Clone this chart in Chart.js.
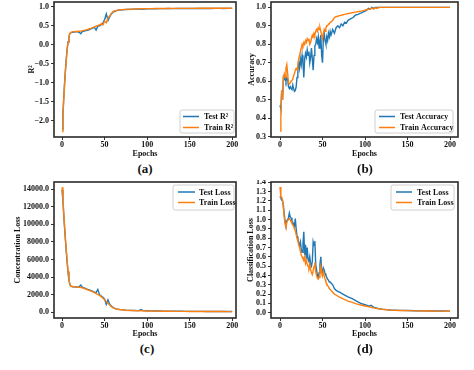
<!DOCTYPE html>
<html><head><meta charset="utf-8">
<script src="https://cdn.jsdelivr.net/npm/chart.js@4.4.1/dist/chart.umd.min.js"></script>
<style>
body{margin:0;background:#fff;width:474px;height:370px;overflow:hidden;position:relative;font-family:"Liberation Serif","Times New Roman",serif;}
canvas{position:absolute;}
.cap{position:absolute;font-weight:bold;font-size:13px;line-height:13px;width:40px;margin-left:-20px;text-align:center;color:#111;}
</style></head><body>
<canvas id="ca" width="241" height="160" style="left:0;top:0"></canvas>
<canvas id="cb" width="237" height="160" style="left:237px;top:0"></canvas>
<canvas id="cc" width="241" height="160" style="left:0;top:180px"></canvas>
<canvas id="cd" width="237" height="160" style="left:237px;top:180px"></canvas>
<div class="cap" style="left:145px;top:162px">(a)</div>
<div class="cap" style="left:365px;top:162px">(b)</div>
<div class="cap" style="left:147px;top:342px">(c)</div>
<div class="cap" style="left:365px;top:342px">(d)</div>
<script>
// ---------- data ----------
const xTicks = [0, 50, 100, 150, 200];

const aEpochs = [0,1,2,3,4,5,6,7,8,9,10,12,14,16,18,20,22,24,26,28,30,32,34,36,38,40,42,44,46,48,50,52,54,56,58,60,62,64,66,68,70,75,80,85,90,95,100,105,110,115,120,125,130,135,140,145,150,155,160,165,170,175,180,185,190,195,200];
const aTest = [-2.22,-1.80,-1.38,-0.98,-0.64,-0.35,-0.11,0.08,0.21,0.29,0.31,
0.33,0.335,0.34,0.34,0.33,0.29,0.35,0.36,0.37,0.38,0.40,0.42,0.44,0.46,0.39,0.49,0.50,0.53,0.57,0.66,0.81,0.64,0.74,0.81,0.86,0.88,0.895,0.905,0.91,0.915,
0.925,0.93,0.935,0.94,0.93,0.944,0.946,0.947,0.949,0.95,0.951,0.95,0.952,0.952,0.951,0.953,0.953,0.952,0.954,0.954,0.953,0.955,0.955,0.954,0.955,0.955];
const aTrain = [-2.28,-1.85,-1.42,-1.02,-0.68,-0.38,-0.13,0.06,0.20,0.29,0.32,
0.34,0.345,0.35,0.35,0.355,0.36,0.37,0.38,0.39,0.40,0.42,0.43,0.45,0.47,0.49,0.51,0.52,0.55,0.52,0.62,0.58,0.70,0.76,0.82,0.87,0.89,0.90,0.91,0.915,0.92,
0.93,0.935,0.94,0.943,0.945,0.948,0.95,0.951,0.952,0.953,0.954,0.955,0.955,0.956,0.956,0.957,0.957,0.958,0.958,0.958,0.959,0.959,0.959,0.96,0.96,0.96];
const aYTicks = [-2.0,-1.5,-1.0,-0.5,0.0,0.5,1.0];

const bEpochs = [0,1,2,3,4,5,6,7,8,9,10,11,12,13,14,15,16,17,18,19,20,21,22,23,24,25,26,27,28,29,30,31,32,33,34,35,36,37,38,39,40,41,42,43,44,45,46,47,48,49,50,51,52,53,54,55,56,57,58,59,60,
62,64,66,68,70,72,74,76,78,80,82,84,86,88,90,92,94,96,98,100,102,104,106,108,110,112,114,116,118,120,130,140,150,160,170,180,190,200];
const bTest = [0.47,0.45,0.55,0.50,0.62,0.61,0.62,0.60,0.62,0.61,
0.57,0.56,0.57,0.56,0.555,0.58,0.56,0.545,0.55,0.57,
0.62,0.66,0.70,0.67,0.72,0.69,0.74,0.70,0.62,0.72,
0.75,0.73,0.77,0.74,0.76,0.70,0.73,0.78,0.72,0.66,
0.74,0.79,0.80,0.83,0.81,0.84,0.78,0.82,0.85,0.74,
0.70,0.83,0.86,0.82,0.80,0.84,0.82,0.86,0.84,0.87,
0.85,
0.88,0.86,0.89,0.90,0.89,0.91,0.90,0.92,0.915,0.93,
0.935,0.94,0.945,0.955,0.96,0.962,0.967,0.97,0.975,0.98,
0.985,0.995,0.99,1.0,0.995,1.0,1.0,1.0,1.0,1.0,
1.0,1.0,1.0,1.0,1.0,1.0,1.0,1.0];
const bTrain = [0.33,0.42,0.55,0.50,0.62,0.64,0.62,0.67,0.69,0.64,
0.59,0.585,0.59,0.60,0.60,0.61,0.63,0.64,0.66,0.67,
0.66,0.69,0.72,0.74,0.76,0.78,0.80,0.79,0.81,0.80,
0.82,0.81,0.83,0.82,0.83,0.80,0.81,0.83,0.85,0.84,
0.86,0.85,0.87,0.88,0.87,0.89,0.88,0.89,0.87,0.85,
0.83,0.86,0.88,0.87,0.89,0.90,0.90,0.91,0.91,0.92,
0.92,
0.93,0.945,0.95,0.952,0.955,0.957,0.96,0.962,0.965,0.967,
0.968,0.97,0.972,0.974,0.975,0.977,0.979,0.98,0.982,0.985,
0.987,0.99,0.992,0.996,0.99,0.998,0.994,0.999,1.0,1.0,
1.0,1.0,1.0,1.0,1.0,1.0,1.0,1.0];
const bYTicks = [0.3,0.4,0.5,0.6,0.7,0.8,0.9,1.0];

const cEpochs = [0,1,2,3,4,5,6,7,8,9,10,12,14,16,18,20,22,24,26,28,30,32,34,36,38,40,42,44,46,48,50,52,54,56,58,60,62,64,66,68,70,75,80,85,90,93,95,100,105,110,115,120,125,130,135,140,145,150,155,160,165,170,175,180,185,190,195,200];
const cTest = [13900,12600,11000,9500,8100,6800,5600,4550,3700,3200,2980,
2900,2880,2870,2860,2900,3100,2830,2760,2680,2600,
2530,2450,2370,2280,2250,2600,2000,1850,1700,1500,
900,1400,900,700,540,450,390,350,320,295,
250,220,200,185,320,190,
170,160,150,140,132,125,120,116,112,108,105,102,100,98,96,94,92,91,90,89,88];
const cTrain = [14200,12800,11200,9700,8300,7000,5800,4700,3800,3250,3000,
2920,2900,2880,2870,2850,2820,2770,2700,2620,2550,
2480,2400,2320,2230,2130,2030,1920,1780,1600,1420,
1220,1020,820,640,500,420,370,330,300,280,
235,205,185,170,165,160,
150,140,132,125,118,112,108,104,100,97,95,92,90,88,86,84,82,81,80,79,78];
const cYTicks = [0,2000,4000,6000,8000,10000,12000,14000];

const dEpochs = [0,1,2,3,4,5,6,7,8,9,10,11,12,13,14,15,16,17,18,19,20,21,22,23,24,25,26,27,28,29,30,31,32,33,34,35,36,37,38,39,40,41,42,43,44,45,46,47,48,49,50,51,52,53,54,55,56,57,58,59,60,
62,64,66,68,70,75,80,85,90,95,100,105,107,110,115,120,125,130,140,150,160,170,180,190,200];
const dTest = [1.25,1.23,1.22,1.20,1.15,1.06,0.98,0.95,0.99,1.00,
1.02,1.07,1.03,1.02,0.99,0.97,0.95,0.93,1.01,0.90,
0.82,0.80,0.75,0.72,0.76,0.68,0.65,0.74,0.87,0.62,
0.73,0.58,0.70,0.57,0.55,0.60,0.52,0.50,0.55,0.76,
0.72,0.77,0.52,0.46,0.40,0.38,0.43,0.52,0.60,0.45,
0.42,0.48,0.46,0.42,0.40,0.38,0.36,0.35,0.33,0.33,
0.32,
0.30,0.26,0.24,0.23,0.22,
0.195,0.17,0.15,0.125,0.10,0.085,0.07,0.08,0.06,0.045,0.038,0.033,0.029,0.025,0.023,0.021,0.02,0.019,0.018,0.017];
const dTrain = [1.35,1.24,1.24,1.21,1.12,1.02,0.95,0.92,0.97,0.99,
1.00,1.01,1.00,0.98,0.96,0.94,0.93,0.90,0.88,0.84,
0.80,0.77,0.73,0.70,0.66,0.62,0.60,0.58,0.56,0.60,
0.53,0.56,0.52,0.50,0.48,0.52,0.46,0.43,0.41,0.45,
0.50,0.54,0.44,0.40,0.37,0.36,0.38,0.45,0.50,0.42,
0.39,0.44,0.40,0.36,0.33,0.31,0.29,0.28,0.26,0.25,
0.24,
0.22,0.20,0.19,0.178,0.167,
0.145,0.125,0.11,0.095,0.083,0.072,0.062,0.058,0.052,0.044,0.037,0.032,0.028,0.024,0.022,0.02,0.019,0.018,0.017,0.016];
const dYTicks = [0.0,0.1,0.2,0.3,0.4,0.5,0.6,0.7,0.8,0.9,1.0,1.1,1.2,1.3,1.4];

// ---------- drawing ----------
const FONT = '"Liberation Serif","Times New Roman",serif';
const BLUE = '#1f77b4', ORANGE = '#ff7f0e', INK = '#111';

const framePlugin = {
  id: 'frame',
  afterDatasetsDraw(chart) {
    const {ctx, chartArea: a} = chart;
    ctx.save();
    ctx.strokeStyle = '#2a2a2a';
    ctx.lineWidth = 1.6;
    ctx.strokeRect(a.left, a.top, a.right - a.left, a.bottom - a.top);
    ctx.restore();
  }
};

const legendPlugin = {
  id: 'boxLegend',
  afterDraw(chart, args, o) {
    const ctx = chart.ctx;
    ctx.save();
    const r = 2;
    ctx.beginPath();
    ctx.moveTo(o.x + r, o.y);
    ctx.arcTo(o.x + o.w, o.y, o.x + o.w, o.y + o.h, r);
    ctx.arcTo(o.x + o.w, o.y + o.h, o.x, o.y + o.h, r);
    ctx.arcTo(o.x, o.y + o.h, o.x, o.y, r);
    ctx.arcTo(o.x, o.y, o.x + o.w, o.y, r);
    ctx.closePath();
    ctx.fillStyle = 'rgba(255,255,255,0.85)';
    ctx.fill();
    ctx.strokeStyle = '#d0d0d0';
    ctx.lineWidth = 1;
    ctx.stroke();
    ctx.font = 'bold 8px ' + FONT;
    ctx.textBaseline = 'middle';
    chart.data.datasets.forEach((ds, i) => {
      const yy = o.rows[i];
      ctx.strokeStyle = ds.borderColor;
      ctx.lineWidth = 1.5;
      ctx.beginPath();
      ctx.moveTo(o.lx0, yy); ctx.lineTo(o.lx1, yy);
      ctx.stroke();
      ctx.fillStyle = INK;
      ctx.fillText(ds.label, o.tx, yy + 0.5);
    });
    ctx.restore();
  }
};

function fmtY(v) {
  const s = Number(v).toFixed(1);
  return s.startsWith('-') ? '\u2212' + s.slice(1) : s;
}

function makeChart(id, c) {
  const pts = arr => c.epochs.map((e, i) => ({x: e, y: arr[i]}));
  const tickFont = {family: FONT, size: 8, weight: 'bold'};
  return new Chart(document.getElementById(id), {
    type: 'line',
    data: {datasets: [
      {label: c.labels[0], data: pts(c.test), borderColor: BLUE, borderWidth: 1.4, pointRadius: 0, tension: 0, fill: false, order: 1},
      {label: c.labels[1], data: pts(c.train), borderColor: ORANGE, borderWidth: 1.4, pointRadius: 0, tension: 0, fill: false, order: 0}
    ]},
    options: {
      responsive: false, animation: false, devicePixelRatio: 1,
      layout: {padding: c.pad},
      plugins: {legend: {display: false}, tooltip: {enabled: false}, boxLegend: c.legend},
      scales: {
        x: {
          type: 'linear', min: c.xMin, max: c.xMax,
          afterBuildTicks: s => { s.ticks = xTicks.map(v => ({value: v})); },
          afterFit: s => { s.height = c.xH; s.paddingLeft = 0; s.paddingRight = 0; s.paddingTop = 0; s.paddingBottom = 0; },
          grid: {display: true, drawOnChartArea: false, drawTicks: true, tickLength: 3, color: '#333'},
          border: {display: false},
          ticks: {padding: 0, color: INK, font: tickFont, maxRotation: 0, autoSkip: false, callback: v => String(v)},
          title: {display: true, text: 'Epochs', color: INK, font: {family: FONT, size: 8, weight: 'bold'}, padding: {top: 0, bottom: 1.2}}
        },
        y: {
          type: 'linear', min: c.yMin, max: c.yMax,
          afterBuildTicks: s => { s.ticks = c.yTicks.map(v => ({value: v})); },
          afterFit: s => { s.width = c.yW; s.paddingLeft = 0; s.paddingRight = 0; s.paddingTop = 0; s.paddingBottom = 0; },
          grid: {display: true, drawOnChartArea: false, drawTicks: true, tickLength: 3, color: '#333'},
          border: {display: false},
          ticks: {padding: 2, color: INK, font: tickFont, autoSkip: false, callback: v => fmtY(v)},
          title: {display: true, text: c.yTitle, color: INK, font: {family: FONT, size: 8, weight: 'bold'}, padding: {top: c.yTitlePad, bottom: 0}}
        }
      }
    },
    plugins: [framePlugin, legendPlugin]
  });
}

makeChart('ca', {
  epochs: aEpochs, test: aTest, train: aTrain, labels: ['Test R\u00b2', 'Train R\u00b2'],
  xMin: -9.5, xMax: 204.5, yMin: -2.42, yMax: 1.123, yTicks: aYTicks,
  pad: {top: 2, right: 5, bottom: 0, left: 0}, yW: 54, xH: 23, yTitle: 'R\u00b2', yTitlePad: 27,
  legend: {x: 180, y: 110, w: 54, h: 23, lx0: 183, lx1: 199, tx: 204, rows: [116.5, 127.5]}
});
makeChart('cb', {
  epochs: bEpochs, test: bTest, train: bTrain, labels: ['Test Accuracy', 'Train Accuracy'],
  xMin: -10.6, xMax: 209.4, yMin: 0.298, yMax: 1.029, yTicks: bYTicks,
  pad: {top: 2, right: 16, bottom: 0, left: 0}, yW: 34, xH: 23, yTitle: 'Accuracy', yTitlePad: 10,
  legend: {x: 138, y: 110, w: 78, h: 23, lx0: 142, lx1: 158, tx: 163, rows: [116.5, 127.5]}
});
makeChart('cc', {
  epochs: cEpochs, test: cTest, train: cTrain, labels: ['Test Loss', 'Train Loss'],
  xMin: -9.5, xMax: 204.5, yMin: -650, yMax: 14795, yTicks: cYTicks,
  pad: {top: 2, right: 5, bottom: 0, left: 0}, yW: 54, xH: 22, yTitle: 'Concentration Loss', yTitlePad: 13,
  legend: {x: 173, y: 5, w: 61, h: 25, lx0: 178, lx1: 195, tx: 199, rows: [12, 22.5]}
});
makeChart('cd', {
  epochs: dEpochs, test: dTest, train: dTrain, labels: ['Test Loss', 'Train Loss'],
  xMin: -10.6, xMax: 209.4, yMin: -0.057, yMax: 1.404, yTicks: dYTicks,
  pad: {top: 2, right: 16, bottom: 0, left: 0}, yW: 34, xH: 22, yTitle: 'Classification Loss', yTitlePad: 9,
  legend: {x: 154, y: 5, w: 63, h: 25, lx0: 159, lx1: 175, tx: 180, rows: [12, 22.5]}
});
</script>
</body></html>
